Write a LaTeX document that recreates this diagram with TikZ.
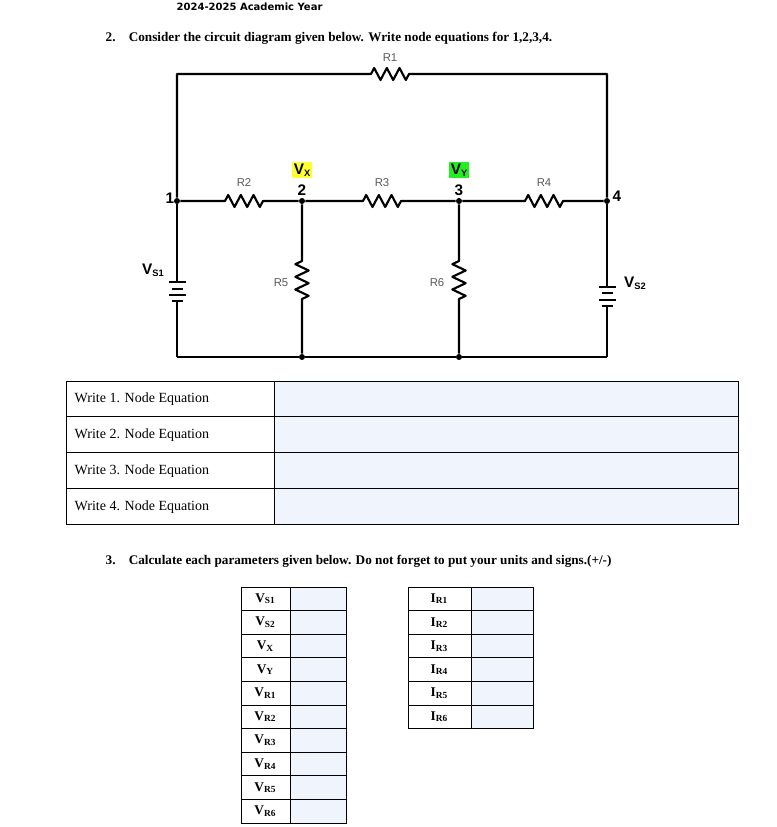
\documentclass[tikz,border=0pt]{standalone}
\usepackage{fontspec}
\setmainfont{Liberation Serif}
\newfontfamily\sans{Liberation Sans}
\newfontfamily\hdr{DejaVu Sans}
\usetikzlibrary{decorations.pathmorphing}
\definecolor{cellblue}{HTML}{F0F4FC}
\definecolor{vxy}{HTML}{FFFF33}
\definecolor{vyg}{HTML}{22EE22}
\newcommand{\sbx}[1]{\raisebox{-0.25ex}{\fontsize{7}{8}\selectfont #1}}
\begin{document}
\begin{tikzpicture}[x=0.75pt,y=-0.75pt,
  wire/.style={line width=1.6pt,line join=round},
  res/.style={decorate,decoration={zigzag,segment length=9.5pt,amplitude=4.5pt}},
  vres/.style={decorate,decoration={zigzag,segment length=9.5pt,amplitude=5pt,mirror}},
  dot/.style={circle,fill=black,inner sep=0pt,minimum size=4.5pt},
  rl/.style={font=\sans\fontsize{8.5}{9}\selectfont,text=black!65},
  nl/.style={font=\sans\bfseries\fontsize{11.5}{12}\selectfont},
  cell/.style={draw,line width=0.6pt},
  tl/.style={font=\bfseries\fontsize{10}{11}\selectfont},
  qs/.style={font=\bfseries\fontsize{9.9}{11}\selectfont,anchor=west}]
\useasboundingbox (0,0) rectangle (776,827);
\node[font=\hdr\bfseries\fontsize{7.5}{9}\selectfont,anchor=west] (hdr) at (172,7) {2024-2025 Academic Year};
\node[qs] (q2) at (101,38) {2.\quad Consider the circuit diagram given below. Write node equations for 1,2,3,4.};
\coordinate (tl) at (177,74); \coordinate (tr) at (607,74);
\node[dot] (n1) at (177,201) {}; \node[dot] (n2) at (302,201) {};
\node[dot] (n3) at (459,201) {}; \node[dot] (n4) at (607,201) {};
\coordinate (bl) at (177,357); \node[dot] (b2) at (302,357) {};
\node[dot] (b3) at (459,357) {}; \coordinate (br) at (607,357);
\draw[wire] (n1) -- (tl) -- (371,74) decorate[res]{-- (409,74)} -- (tr) -- (n4);
\draw[wire] (n1) -- (225,201) decorate[res]{-- (263,201)} -- (n2);
\draw[wire] (n2) -- (363,201) decorate[res]{-- (401,201)} -- (n3);
\draw[wire] (n3) -- (525,201) decorate[res]{-- (563,201)} -- (n4);
\draw[wire] (n2) -- (302,261) decorate[vres]{-- (302,299)} -- (b2);
\draw[wire] (n3) -- (459,261) decorate[vres]{-- (459,299)} -- (b3);
\draw[wire] (bl) -- (b2) -- (b3) -- (br);
\draw[wire] (n1) -- (177,282); \draw[wire] (177,301) -- (bl);
\draw[wire] (169,282) -- (186,282); \draw[wire] (172,289) -- (183,289);
\draw[wire] (169,295) -- (186,295); \draw[wire] (172,301) -- (183,301);
\draw[wire] (n4) -- (607,287); \draw[wire] (607,306) -- (br);
\draw[wire] (599,287) -- (616,287); \draw[wire] (602,293) -- (613,293);
\draw[wire] (599,300) -- (616,300); \draw[wire] (602,306) -- (613,306);
\node[rl] (lr1) at (390,58) {R1};
\node[rl] (lr2) at (244,183) {R2};
\node[rl] (lr3) at (382,183) {R3};
\node[rl] (lr4) at (544,183) {R4};
\node[rl] (lr5) at (281,283) {R5};
\node[rl] (lr6) at (437,283) {R6};
\node[nl] (l1) at (170,198) {1};
\node[nl] (l2) at (302,190) {2};
\node[nl] (l3) at (459,190) {3};
\node[nl] (l4) at (617,196) {4};
\node[nl,fill=vxy,inner sep=1pt] (vx) at (302,170) {V\sbx{X}};
\node[nl,fill=vyg,inner sep=1pt] (vy) at (459,170) {V\sbx{Y}};
\node[nl] (vs1) at (153,270) {V\sbx{S1}};
\node[nl] (vs2) at (635,283) {V\sbx{S2}};
\foreach \i/\t in {0/1,1/2,2/3,3/4}{
  \draw[cell] (66,381+35.75*\i) rectangle (274,381+35.75*\i+35.75);
  \draw[cell,fill=cellblue] (274,381+35.75*\i) rectangle (738,381+35.75*\i+35.75);
  \node[anchor=west,font=\fontsize{10.5}{12}\selectfont] (w\t) at (70,399.5+35.75*\i) {Write \t. Node Equation};
}
\node[qs] (q3) at (101,561) {3.\quad Calculate each parameters given below. Do not forget to put your units and signs.(+/-)};
\foreach \i/\t in {0/S1,1/S2,2/X,3/Y,4/R1,5/R2,6/R3,7/R4,8/R5,9/R6}{
  \draw[cell] (241,587+23.6*\i) rectangle (290,587+23.6*\i+23.6);
  \draw[cell,fill=cellblue] (290,587+23.6*\i) rectangle (346,587+23.6*\i+23.6);
  \node[tl] (v\i) at (265,598.8+23.6*\i) {V\sbx{\t}};
}
\foreach \i/\t in {0/R1,1/R2,2/R3,3/R4,4/R5,5/R6}{
  \draw[cell] (408,587+23.6*\i) rectangle (471,587+23.6*\i+23.6);
  \draw[cell,fill=cellblue] (471,587+23.6*\i) rectangle (533,587+23.6*\i+23.6);
  \node[tl] (c\i) at (439,598.8+23.6*\i) {I\sbx{\t}};
}
\end{tikzpicture}
\end{document}
